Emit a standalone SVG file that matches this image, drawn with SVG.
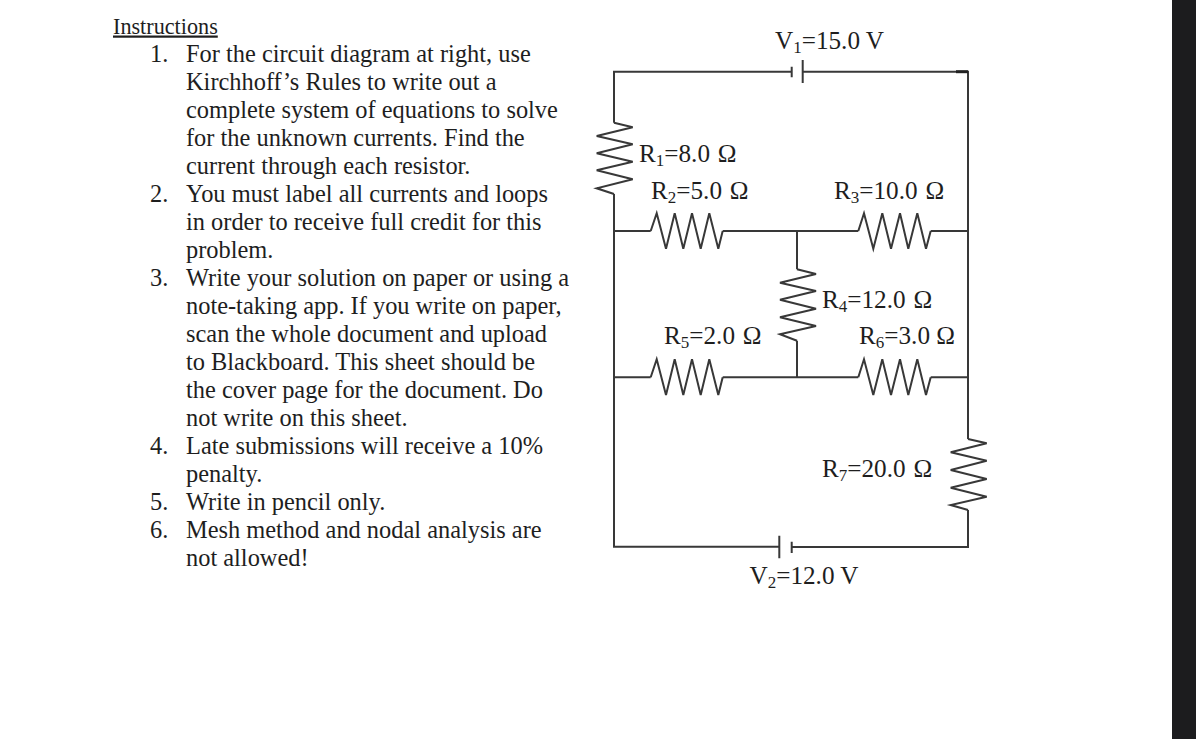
<svg xmlns="http://www.w3.org/2000/svg" width="1196" height="739" viewBox="0 0 1196 739">
<defs><style>
text{font-family:"Liberation Serif","Times New Roman",serif;font-size:24.4px;fill:#1e1e1e}
.h{font-size:22.2px;text-decoration:underline}
.l{font-size:25.2px}
.r{word-spacing:1.5px}
.s{font-size:17px}
.w,.z{fill:none;stroke:#383838;stroke-width:2;stroke-linejoin:miter}
.p{fill:none;stroke:#383838;stroke-width:2}
</style></defs>
<rect width="1196" height="739" fill="#ffffff"/>
<rect id="screen-edge" x="1172" y="0" width="24" height="739" fill="#1c1c1e"/>
<g id="instructions">
<text class="h" x="113" y="33.500">Instructions</text>
<text x="150" y="61.500">1.</text><text x="186" y="61.500">For the circuit diagram at right, use</text>
<text x="186" y="89.500">Kirchhoff’s Rules to write out a</text>
<text x="186" y="117.500">complete system of equations to solve</text>
<text x="186" y="145.500">for the unknown currents. Find the</text>
<text x="186" y="173.500">current through each resistor.</text>
<text x="150" y="201.500">2.</text><text x="186" y="201.500">You must label all currents and loops</text>
<text x="186" y="229.500">in order to receive full credit for this</text>
<text x="186" y="257.500">problem.</text>
<text x="150" y="285.500">3.</text><text x="186" y="285.500">Write your solution on paper or using a</text>
<text x="186" y="313.500">note-taking app. If you write on paper,</text>
<text x="186" y="341.500">scan the whole document and upload</text>
<text x="186" y="369.500">to Blackboard. This sheet should be</text>
<text x="186" y="398">the cover page for the document. Do</text>
<text x="186" y="426">not write on this sheet.</text>
<text x="150" y="453.500">4.</text><text x="186" y="453.500">Late submissions will receive a 10%</text>
<text x="186" y="481.500">penalty.</text>
<text x="150" y="509.500">5.</text><text x="186" y="509.500">Write in pencil only.</text>
<text x="150" y="537.500">6.</text><text x="186" y="537.500">Mesh method and nodal analysis are</text>
<text x="186" y="565.500">not allowed!</text>
</g>
<g id="connectors">
<path class="w" d="M792 71.700H614V122.700M614 194V546.700H779.300M791.700 547H968V510M968 439V71.700H802.700"/>
<path class="w" d="M614 231H650.700M722.700 231H858.300M930.700 231H968"/>
<path class="w" d="M614 377.300H650.700M722.700 377.300H858.300M930.700 377.300H968"/>
<path class="w" d="M797 231V269.300M797 340.700V377.300"/>
<path d="M956 71.700H968" stroke="#222" stroke-width="3" fill="none"/>
</g>
<g id="V1"><path class="p" d="M791.700 66.700V77.300M802.700 60V83"/><text class="l" x="775" y="48.500">V<tspan class="s" dy="4">1</tspan><tspan dy="-4">=15.0 V</tspan></text></g>
<g id="R1"><path class="z" d="M614 122.700L632.700 127.300L596.700 136L632.700 144.300L596.700 153.300L632.700 161.700L596.700 170.300L632.700 179.300L596.700 188.300L614 194"/><text class="l r" x="639" y="162">R<tspan class="s" dy="4">1</tspan><tspan dy="-4">=8.0 Ω</tspan></text></g>
<g id="R2"><path class="z" d="M650.700 231L656.700 213.300L666 248.700L674.700 213.300L683.300 248.700L692 213.300L700.700 248.700L709.300 213.300L718.300 248.700L722.700 231"/><text class="l r" x="651" y="198.500">R<tspan class="s" dy="4">2</tspan><tspan dy="-4">=5.0 Ω</tspan></text></g>
<g id="R3"><path class="z" d="M858.300 231L864 213.300L873.300 248.700L882.300 213.300L891 248.700L900 213.300L908.300 248.700L917.300 213.300L926 248.700L930.700 231"/><text class="l r" x="834" y="198.500">R<tspan class="s" dy="4">3</tspan><tspan dy="-4">=10.0 Ω</tspan></text></g>
<g id="R4"><path class="z" d="M797 269.300L816 274L780 282.700L816 291L780 299.700L816 308.700L780 317.300L816 326L780 334.300L797 340.700"/><text class="l r" x="822" y="308">R<tspan class="s" dy="4">4</tspan><tspan dy="-4">=12.0 Ω</tspan></text></g>
<g id="R5"><path class="z" d="M650.700 377.300L656.700 359.300L666 395L674.700 359.300L683.300 395L692 359.300L700.700 395L709.300 359.300L718.300 395L722.700 377.300"/><text class="l r" x="664" y="343.500">R<tspan class="s" dy="4">5</tspan><tspan dy="-4">=2.0 Ω</tspan></text></g>
<g id="R6"><path class="z" d="M858.300 377.300L864 359.300L873.300 395L882.300 359.300L891 395L900 359.300L908.300 395L917.300 359.300L926 395L930.700 377.300"/><text class="l" x="859" y="343.500">R<tspan class="s" dy="4">6</tspan><tspan dy="-4">=3.0 Ω</tspan></text></g>
<g id="R7"><path class="z" d="M968 439L986.700 443.300L950.700 452.300L986.700 460.700L950.700 470L986.700 479L950.700 487.700L986.700 496.700L950.700 505L968 510"/><text class="l r" x="822" y="477">R<tspan class="s" dy="4">7</tspan><tspan dy="-4">=20.0 Ω</tspan></text></g>
<g id="V2"><path class="p" d="M779.300 535.700V558.300M791.700 541.700V553"/><text class="l" x="749.500" y="583.500">V<tspan class="s" dy="4">2</tspan><tspan dy="-4">=12.0 V</tspan></text></g>
</svg>
